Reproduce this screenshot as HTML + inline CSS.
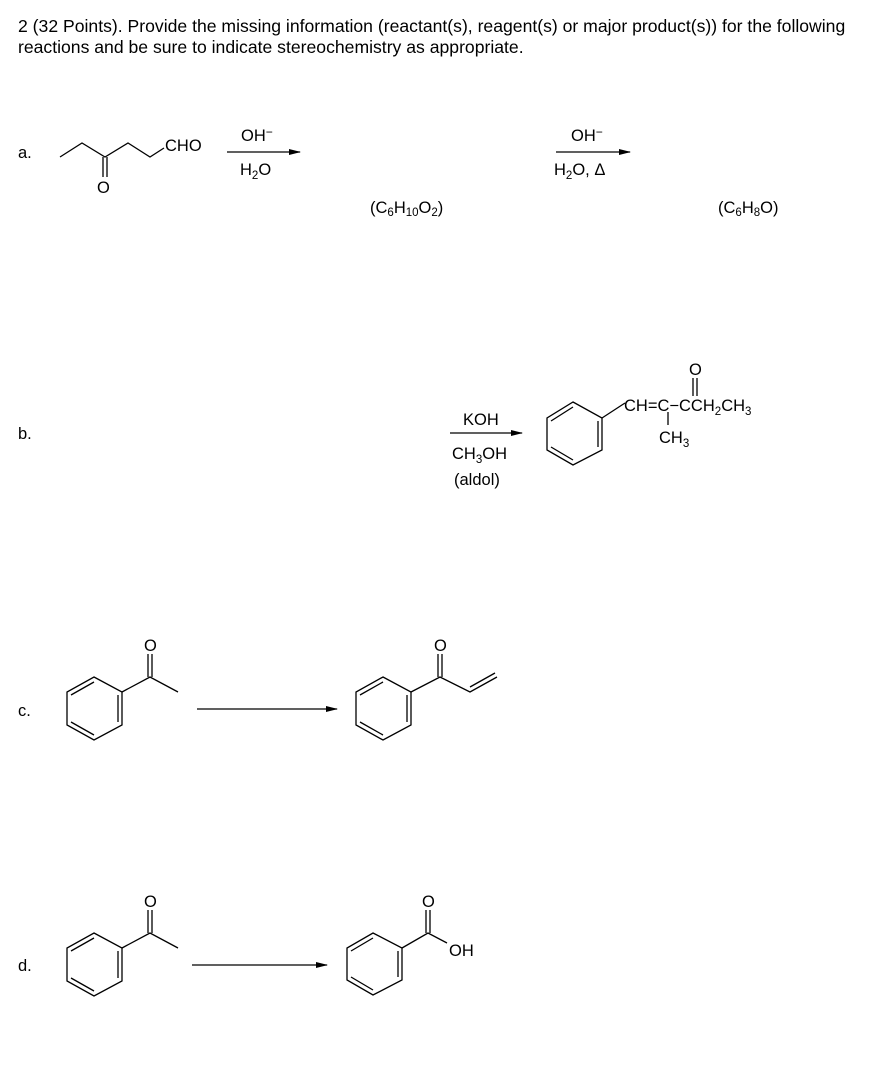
<!DOCTYPE html>
<html><head><style>
html,body{margin:0;padding:0;background:#fff;}
svg{display:block;}
text{font-family:"Liberation Sans",Arial,sans-serif;fill:#000;}
</style></head><body>
<svg width="888" height="1076" viewBox="0 0 888 1076" xmlns="http://www.w3.org/2000/svg">
<defs>
<marker id="ah" markerWidth="12" markerHeight="8" refX="11" refY="4" orient="auto" markerUnits="userSpaceOnUse">
<path d="M0,1 L12,4 L0,7 Z" fill="#000"/>
</marker>
</defs>
<text x="18" y="32" font-size="17.6">2 (32 Points). Provide the missing information (reactant(s), reagent(s) or major product(s)) for the following</text>
<text x="18" y="53" font-size="17.6">reactions and be sure to indicate stereochemistry as appropriate.</text>

<g stroke="#000" stroke-width="1.3" fill="none">
<polyline points="60,157 82,143 105,157 128,143 150,157 164,148"/>
<line x1="103" y1="157" x2="103" y2="177"/><line x1="107" y1="157" x2="107" y2="177"/>
<line x1="227" y1="152" x2="300" y2="152" marker-end="url(#ah)"/>
<line x1="556" y1="152" x2="630" y2="152" marker-end="url(#ah)"/>
<line x1="450" y1="433" x2="522" y2="433" marker-end="url(#ah)"/>
<polygon points="573,402 602,418 602,450 573,465 547,450 547,418"/>
<line x1="598" y1="421" x2="598" y2="447"/>
<line x1="573" y1="460" x2="551" y2="447"/>
<line x1="551" y1="421" x2="573" y2="407"/>
<line x1="602" y1="418" x2="625" y2="403"/>
<line x1="693" y1="378" x2="693" y2="396"/><line x1="697" y1="378" x2="697" y2="396"/>
<line x1="668" y1="412" x2="668" y2="425"/>
<polygon points="94,677 122,692 122,725 94,740 67,725 67,692"/>
<line x1="118" y1="695" x2="118" y2="722"/>
<line x1="94" y1="735" x2="71" y2="722"/>
<line x1="71" y1="695" x2="94" y2="682"/>
<polyline points="122,692 150,677 178,692"/>
<line x1="148" y1="677" x2="148" y2="654"/><line x1="152" y1="677" x2="152" y2="654"/>
<line x1="197" y1="709" x2="337" y2="709" marker-end="url(#ah)"/>
<polygon points="383,677 411,692 411,725 383,740 356,725 356,692"/>
<line x1="407" y1="695" x2="407" y2="722"/>
<line x1="383" y1="735" x2="360" y2="722"/>
<line x1="360" y1="695" x2="383" y2="682"/>
<polyline points="411,692 440,677 470,692 497,677"/>
<line x1="470" y1="687" x2="495" y2="673"/>
<line x1="438" y1="677" x2="438" y2="654"/><line x1="442" y1="677" x2="442" y2="654"/>
<polygon points="94,933 122,948 122,981 94,996 67,981 67,948"/>
<line x1="118" y1="951" x2="118" y2="978"/>
<line x1="94" y1="991" x2="71" y2="978"/>
<line x1="71" y1="951" x2="94" y2="938"/>
<polyline points="122,948 150,933 178,948"/>
<line x1="148" y1="933" x2="148" y2="910"/><line x1="152" y1="933" x2="152" y2="910"/>
<line x1="192" y1="965" x2="327" y2="965" marker-end="url(#ah)"/>
<polygon points="373,933 402,948 402,980 373,995 347,980 347,948"/>
<line x1="398" y1="951" x2="398" y2="977"/>
<line x1="373" y1="990" x2="351" y2="977"/>
<line x1="351" y1="951" x2="373" y2="938"/>
<polyline points="402,948 428,933 447,943"/>
<line x1="426" y1="933" x2="426" y2="910"/><line x1="430" y1="933" x2="430" y2="910"/>
</g>

<g font-size="16.5">
<text x="18" y="158">a.</text>
<text x="165" y="151">CHO</text>
<text x="97" y="193">O</text>
<text x="241" y="141">OH<tspan font-size="12" dy="-5">−</tspan></text>
<text x="240" y="175">H<tspan font-size="11.5" dy="4">2</tspan><tspan dy="-4">O</tspan></text>
<text x="370" y="213">(C<tspan font-size="11.5" dy="3">6</tspan><tspan dy="-3">H</tspan><tspan font-size="11.5" dy="3">10</tspan><tspan dy="-3">O</tspan><tspan font-size="11.5" dy="3">2</tspan><tspan dy="-3">)</tspan></text>
<text x="571" y="141">OH<tspan font-size="12" dy="-5">−</tspan></text>
<text x="554" y="175">H<tspan font-size="11.5" dy="4">2</tspan><tspan dy="-4">O, Δ</tspan></text>
<text x="718" y="213">(C<tspan font-size="11.5" dy="3">6</tspan><tspan dy="-3">H</tspan><tspan font-size="11.5" dy="3">8</tspan><tspan dy="-3">O)</tspan></text>

<text x="18" y="439">b.</text>
<text x="463" y="425">KOH</text>
<text x="452" y="459">CH<tspan font-size="11.5" dy="4">3</tspan><tspan dy="-4">OH</tspan></text>
<text x="454" y="485">(aldol)</text>
<text x="689" y="375">O</text>
<text x="624" y="411">CH=C−CCH<tspan font-size="11.5" dy="4">2</tspan><tspan dy="-4">CH</tspan><tspan font-size="11.5" dy="4">3</tspan></text>
<text x="659" y="443">CH<tspan font-size="11.5" dy="4">3</tspan></text>

<text x="18" y="716">c.</text>
<text x="144" y="651">O</text>
<text x="434" y="651">O</text>

<text x="18" y="971">d.</text>
<text x="144" y="907">O</text>
<text x="422" y="907">O</text>
<text x="449" y="956">OH</text>
</g>
</svg>
</body></html>
